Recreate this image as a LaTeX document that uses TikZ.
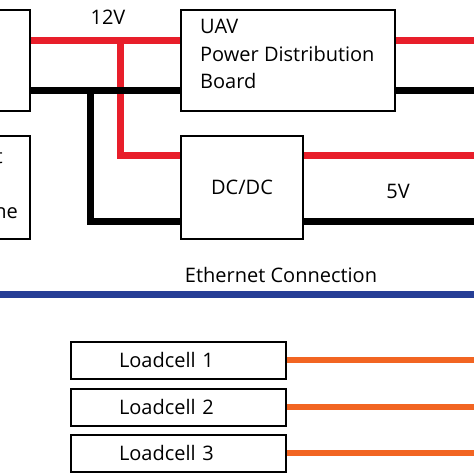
\documentclass[tikz,border=0pt]{standalone}
\usepackage{fontspec}
\setmainfont{Open Sans}
\usetikzlibrary{calc}
\definecolor{wirered}{RGB}{232,30,42}
\definecolor{wireblue}{RGB}{38,62,150}
\definecolor{wireorange}{RGB}{242,101,34}
\tikzset{
  box/.style={draw=black,line width=2pt,rectangle,inner sep=0pt},
  cellbox/.style={box,minimum width=215pt,minimum height=37pt,text width=119pt,inner xsep=48pt,align=left},
  lbl/.style={font=\fontsize{20}{24}\selectfont,inner sep=0pt},
  redwire/.style={draw=wirered,line width=7pt},
  blackwire/.style={draw=black,line width=7pt},
  bluewire/.style={draw=wireblue,line width=6.5pt},
  orangewire/.style={draw=wireorange,line width=6pt}
}
\begin{document}
\begin{tikzpicture}[x=1pt,y=-1pt,font=\fontsize{20}{24}\selectfont]
\useasboundingbox (0,0) rectangle (474,474);
\clip (0,0) rectangle (474,474);
%boxes
\node[box,minimum width=70pt,minimum height=101pt] (batt) at (-5,60.5) {};
\node[box,minimum width=70pt,minimum height=103pt] (comp) at (-5,187.5) {};
\node[box,minimum width=214pt,minimum height=101pt] (uav) at (288,60.5) {};
\node[box,minimum width=122pt,minimum height=103pt] (dcdc) at (242,187.5) {};
%labels
\node[lbl,anchor=base west] at (200,33) {UAV};
\node[lbl,anchor=base west] at (200,61) {Power Distribution};
\node[lbl,anchor=base west] at (200,88) {Board};
\node[lbl] at (dcdc.center) {DC/DC};
\node[lbl,anchor=base] at (108,24) {12V};
\node[lbl,anchor=base] at (398,198) {5V};
\node[lbl,anchor=base east] at (3,163) {t};
\node[lbl,anchor=base east] at (18,218) {ne};
\node[lbl,anchor=base] at (281,282) {Ethernet Connection};
%wire junctions
\coordinate (j12) at (120.5,40);
\coordinate (jgnd) at (90.5,90);
\coordinate (r5) at (474,155.5);
\coordinate (g5) at (474,221.5);
%12V and ground
\draw[redwire] (batt.east |- j12) -- (uav.west |- j12);
\draw[redwire,line join=miter] (j12) |- (dcdc.west |- r5);
\draw[blackwire] (batt.east |- jgnd) -- (uav.west |- jgnd);
\draw[blackwire,line join=miter] (jgnd) |- (dcdc.west |- g5);
\draw[redwire] (uav.east |- j12) -- (474,40);
\draw[blackwire] (uav.east |- jgnd) -- (474,90);
%5V
\draw[redwire] (dcdc.east |- r5) -- (r5);
\draw[blackwire] (dcdc.east |- g5) -- (g5);
%ethernet
\draw[bluewire] (0,294.5) -- (474,294.5);
%loadcells
\foreach \i/\y in {1/360,2/407,3/453}{
  \node[cellbox] (cell\i) at (178.5,\y) {Loadcell \i};
  \draw[orangewire] (cell\i.east) -- (474,\y);
}
\end{tikzpicture}
\end{document}
